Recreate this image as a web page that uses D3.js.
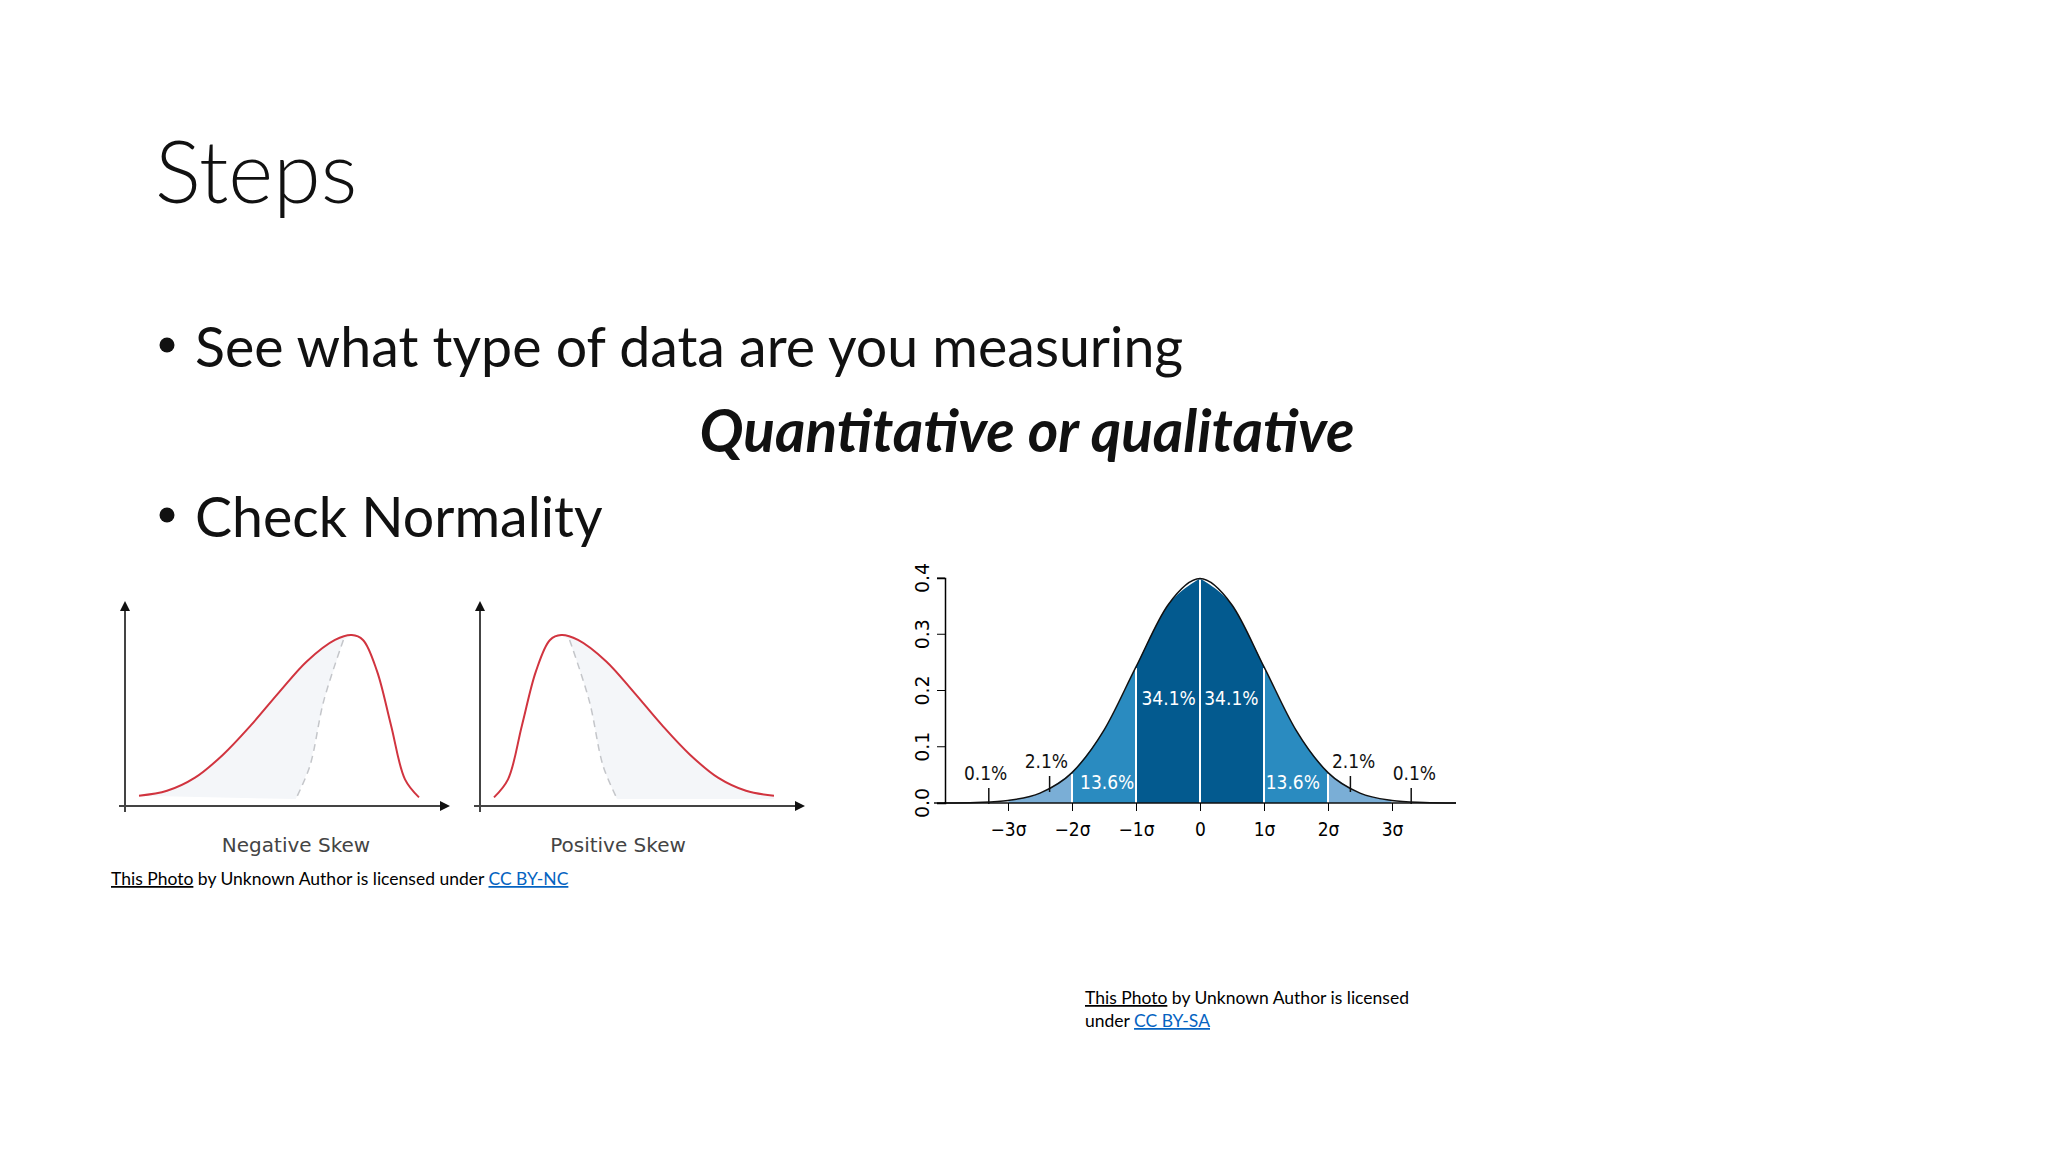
<!DOCTYPE html>
<html><head><meta charset="utf-8">
<script src="https://cdn.jsdelivr.net/npm/d3@7"></script>
<style>body{margin:0;background:#fff}svg{display:block}</style>
</head><body>
<script>
// normal density, read at half-sigma steps
var sigmaX = [-4, -3.5, -3, -2.5, -2, -1.5, -1, -0.5, 0, 0.5, 1, 1.5, 2, 2.5, 3, 3.5, 4];
var densityY = [0.0001, 0.0009, 0.0044, 0.0175, 0.054, 0.1295, 0.242, 0.352, 0.399, 0.352, 0.242, 0.1295, 0.054, 0.0175, 0.0044, 0.0009, 0.0001];
var sigmaTicks = [-3, -2, -1, 0, 1, 2, 3];
var sigmaLabels = ["\u22123\u03c3", "\u22122\u03c3", "\u22121\u03c3", "0", "1\u03c3", "2\u03c3", "3\u03c3"];
var yTicks = [0, 0.1, 0.2, 0.3, 0.4];
var bandEdges = [[-4, -3], [-3, -2], [-2, -1], [-1, 0], [0, 1], [1, 2], [2, 3], [3, 4]];
var bandColors = ["#dbe8f3", "#7aaed6", "#2a8bc0", "#035a8f", "#035a8f", "#2a8bc0", "#7aaed6", "#dbe8f3"];
var pctLabels = ["0.1%", "2.1%", "13.6%", "34.1%", "34.1%", "13.6%", "2.1%", "0.1%"];

// skew curves, fraction of peak height over curve width
var skewX = [0, 0.1, 0.2, 0.3, 0.4, 0.5, 0.6, 0.7, 0.76, 0.8, 0.85, 0.9, 0.95, 1];
var negY = [0.02, 0.05, 0.13, 0.27, 0.45, 0.65, 0.84, 0.97, 1.0, 0.97, 0.78, 0.45, 0.12, 0.01];
var posX = [0, 0.05, 0.1, 0.15, 0.2, 0.24, 0.3, 0.4, 0.5, 0.6, 0.7, 0.8, 0.9, 1];
var posY = [0.01, 0.12, 0.45, 0.78, 0.97, 1.0, 0.97, 0.84, 0.65, 0.45, 0.27, 0.13, 0.05, 0.02];
var negDash = [[0.73, 0.97], [0.66, 0.6], [0.61, 0.2], [0.56, 0.0]];
var posDash = [[0.27, 0.97], [0.34, 0.6], [0.39, 0.2], [0.44, 0.0]];

var svg = d3.select("body").append("svg").attr("width", 2048).attr("height", 1152);
var font = "Lato, 'Open Sans', sans-serif";
var cond = "'DejaVu Sans Condensed', 'DejaVu Sans'";

svg.append("text").attr("x", 155).attr("y", 203).attr("font-family", font).attr("font-weight", 300)
  .attr("font-size", 86).attr("fill", "#111").text("Steps");
[["See what type of data are you measuring", 367], ["Check Normality", 537]].forEach(function (b) {
  svg.append("circle").attr("cx", 167).attr("cy", b[1] - 22).attr("r", 7.5).attr("fill", "#111");
  svg.append("text").attr("x", 195).attr("y", b[1]).attr("font-family", font).attr("font-size", 55.5)
    .attr("fill", "#111").text(b[0]);
});
svg.append("text").attr("x", 1027).attr("y", 452).attr("text-anchor", "middle").attr("font-family", font)
  .attr("font-size", 58.5).attr("font-weight", 700).attr("font-style", "italic").attr("fill", "#111")
  .text("Quantitative or qualitative");

// ---- normal chart
var x = d3.scaleLinear().domain([-4, 4]).range([944, 1456]);
var y = d3.scaleLinear().domain([0, 0.4]).range([803, 578]);
var pts = sigmaX.map(function (d, i) { return [d, densityY[i]]; });
var area = d3.area().x(function (d) { return x(d[0]); }).y0(y(0)).y1(function (d) { return y(d[1]); }).curve(d3.curveCardinal);
bandEdges.forEach(function (b, i) {
  svg.append("path").datum(pts.filter(function (p) { return p[0] >= b[0] && p[0] <= b[1]; }))
    .attr("d", area).attr("fill", bandColors[i]);
});
sigmaTicks.forEach(function (s) {
  svg.append("line").attr("x1", x(s)).attr("x2", x(s)).attr("y1", y(0))
    .attr("y2", y(densityY[sigmaX.indexOf(s)]) + 1).attr("stroke", "#fff").attr("stroke-width", 2);
});
svg.append("path").datum(pts).attr("fill", "none").attr("stroke", "#111").attr("stroke-width", 1.5)
  .attr("d", d3.line().x(function (d) { return x(d[0]); }).y(function (d) { return y(d[1]); }).curve(d3.curveCardinal));
svg.append("line").attr("x1", 934).attr("x2", 1456).attr("y1", y(0)).attr("y2", y(0)).attr("stroke", "#111").attr("stroke-width", 1.5);
var xa = svg.append("g").attr("transform", "translate(0," + y(0) + ")")
  .call(d3.axisBottom(x).tickValues(sigmaTicks).tickSize(8).tickFormat(function (d, i) { return sigmaLabels[i]; }));
xa.select(".domain").remove();
xa.selectAll("text").attr("font-family", cond).attr("font-size", 19).attr("dy", "1.15em");
var ya = svg.append("g").attr("transform", "translate(945,0)").call(d3.axisLeft(y).tickValues(yTicks).tickSize(8).tickFormat(d3.format(".1f")));
ya.select(".domain").attr("stroke-width", 1.5);
ya.selectAll("text").attr("font-family", "'DejaVu Sans'").attr("font-size", 19)
  .attr("transform", function (d) { return "translate(-16," + y(d) + ") rotate(-90)"; })
  .attr("x", 0).attr("y", 0).attr("dy", 0).attr("text-anchor", "middle");
ya.selectAll(".tick").attr("transform", null);
ya.selectAll(".tick line").attr("y1", function (d) { return y(d); }).attr("y2", function (d) { return y(d); });
var pctPos = [[-3.35, 780, "#111"], [-2.4, 768, "#111"], [-1.45, 789, "#fff"], [-0.49, 705, "#fff"], [0.49, 705, "#fff"], [1.45, 789, "#fff"], [2.4, 768, "#111"], [3.35, 780, "#111"]];
pctLabels.forEach(function (t, i) {
  var p = pctPos[i];
  svg.append("text").attr("x", x(p[0])).attr("y", p[1]).attr("text-anchor", "middle")
    .attr("font-family", cond).attr("font-size", 19).attr("fill", p[2]).text(t);
  if (p[2] === "#111") {
    var tx = x(p[0] + (p[0] < 0 ? 0.05 : -0.05));
    svg.append("line").attr("x1", tx).attr("x2", tx).attr("y1", p[1] + 8).attr("y2", p[1] + 24).attr("stroke", "#111").attr("stroke-width", 1.5);
  }
});
svg.append("text").attr("x", 1085).attr("y", 1004).attr("font-family", font).attr("font-size", 17.5)
  .html('<tspan text-decoration="underline">This Photo</tspan> by Unknown Author is licensed');
svg.append("text").attr("x", 1085).attr("y", 1027).attr("font-family", font).attr("font-size", 17.5)
  .html('under <tspan fill="#0563c1" text-decoration="underline">CC BY-SA</tspan>');

// ---- skew charts
svg.append("defs").append("marker").attr("id", "arr").attr("viewBox", "0 0 10 10").attr("refX", 5).attr("refY", 5)
  .attr("markerWidth", 5).attr("markerHeight", 5).attr("orient", "auto-start-reverse")
  .append("path").attr("d", "M0,0L10,5L0,10z").attr("fill", "#111");
function skew(x0, xs, ys, dash, label, lx, tailLeft) {
  var sx = d3.scaleLinear().domain([0, 1]).range([x0 + 14, x0 + 294]);
  var sy = d3.scaleLinear().domain([0, 1]).range([799, 635]);
  var g = svg.append("g");
  var cp = xs.map(function (d, i) { return [d, ys[i]]; });
  var peak = ys.indexOf(1.0);
  var ln = d3.line().x(function (d) { return sx(d[0]); }).y(function (d) { return sy(d[1]); }).curve(d3.curveCatmullRom);
  var tail = tailLeft ? cp.slice(0, peak + 1) : cp.slice(peak);
  var dpts = tailLeft ? dash : dash.slice().reverse();
  var shape = tailLeft
    ? ln(tail) + "L" + dpts.map(function (d) { return sx(d[0]) + "," + sy(d[1]); }).join("L") + "Z"
    : ln(dpts) + "L" + ln(tail).slice(1) + "L" + sx(1) + "," + sy(0) + "Z";
  g.append("path").attr("fill", "#f4f6f9").attr("d", shape);
  g.append("path").attr("fill", "none").attr("stroke", "#c4c6ca").attr("stroke-dasharray", "7,5").attr("stroke-width", 1.5)
    .attr("d", ln(dash));
  g.append("path").datum(cp).attr("fill", "none").attr("stroke", "#d1343f").attr("stroke-width", 2).attr("d", ln);
  g.append("line").attr("x1", x0).attr("x2", x0).attr("y1", 812).attr("y2", 606).attr("stroke", "#444").attr("stroke-width", 2).attr("marker-end", "url(#arr)");
  g.append("line").attr("x1", x0 - 6).attr("x2", x0 + 320).attr("y1", 806).attr("y2", 806).attr("stroke", "#444").attr("stroke-width", 2).attr("marker-end", "url(#arr)");
  g.append("text").attr("x", lx).attr("y", 852).attr("text-anchor", "middle").attr("font-family", "'DejaVu Sans'")
    .attr("font-size", 20).attr("fill", "#444").text(label);
}
skew(125, skewX, negY, negDash, "Negative Skew", 296, true);
skew(480, posX, posY, posDash, "Positive Skew", 618, false);
svg.append("text").attr("x", 111).attr("y", 885).attr("font-family", font).attr("font-size", 17.5)
  .html('<tspan text-decoration="underline">This Photo</tspan> by Unknown Author is licensed under <tspan fill="#0563c1" text-decoration="underline">CC BY-NC</tspan>');
</script>
</body></html>
